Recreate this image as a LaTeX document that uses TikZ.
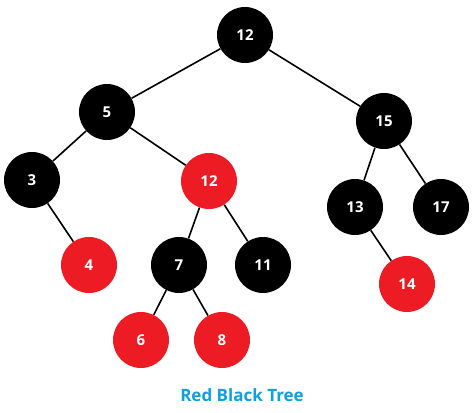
\documentclass[tikz,border=0pt]{standalone}
\usepackage{fontspec}
\setmainfont{Open Sans}
\usetikzlibrary{positioning}
\definecolor{rbred}{HTML}{ED1C24}
\definecolor{rbblue}{HTML}{0FA0E0}

\begin{document}
\begin{tikzpicture}[
  x=1pt, y=-1pt,
  blknode/.style={circle, fill=black, text=white, minimum size=56pt, inner sep=0pt, font=\bfseries\fontsize{15}{17}\selectfont},
  rednode/.style={blknode, fill=rbred},
  edge/.style={line width=1.6pt}
]
\useasboundingbox (0,0) rectangle (475,413);
\node[blknode] (n12) at (245,35) {12};
\node[blknode] (n5) at (107,112) {5};
\node[blknode] (n15) at (384,121) {15};
\node[blknode] (n3) at (32,180) {3};
\node[rednode] (r12) at (209,181) {12};
\node[blknode] (n13) at (355,207) {13};
\node[blknode] (n17) at (441,207) {17};
\node[rednode] (n4) at (89,265) {4};
\node[blknode] (n7) at (179,265) {7};
\node[blknode] (n11) at (263,265) {11};
\node[rednode] (n14) at (407,284) {14};
\node[rednode] (n6) at (141,340) {6};
\node[rednode] (n8) at (222,340) {8};
\node[text=rbblue, font=\bfseries\fontsize{17}{19}\selectfont] (cap) at (242,395) {Red Black Tree};
\draw[edge] (n12) -- (n5);
\draw[edge] (n12) -- (n15);
\draw[edge] (n5) -- (n3);
\draw[edge] (n5) -- (r12);
\draw[edge] (n3) -- (n4);
\draw[edge] (r12) -- (n7);
\draw[edge] (r12) -- (n11);
\draw[edge] (n7) -- (n6);
\draw[edge] (n7) -- (n8);
\draw[edge] (n15) -- (n13);
\draw[edge] (n15) -- (n17);
\draw[edge] (n13) -- (n14);
\end{tikzpicture}
\end{document}
